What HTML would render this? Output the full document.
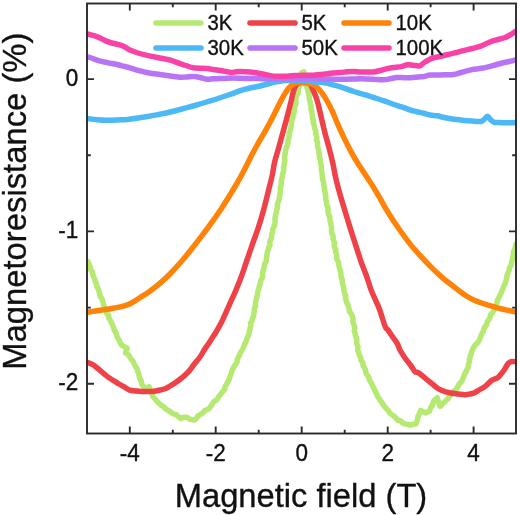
<!DOCTYPE html>
<html><head><meta charset="utf-8"><style>
html,body{margin:0;padding:0;background:#fff;}
body{width:520px;height:515px;overflow:hidden;}
svg{display:block;}
text{font-family:"Liberation Sans",Arial,sans-serif;fill:#111;stroke:#111;stroke-width:0.35px;}
</style></head><body>
<svg width="520" height="515" viewBox="0 0 520 515">
<defs><clipPath id="pc"><rect x="87" y="3.5" width="429" height="430.0"/></clipPath></defs>
<g clip-path="url(#pc)" fill="none" stroke-width="5.5" stroke-linejoin="round" stroke-linecap="round">
<polyline points="87.9,261.5 89.1,264.4 90.4,267.4 90.7,269.9 92.2,271.9 92.7,274.4 93.7,276.8 94.8,279.1 95.2,281.7 96.5,283.9 96.9,286.5 98.2,288.8 99.0,291.2 99.6,293.8 100.1,296.4 101.8,298.5 102.7,301.0 103.3,303.6 103.9,306.1 105.3,308.4 106.4,310.8 106.8,313.5 108.7,315.5 108.9,318.3 110.4,320.5 111.6,322.9 112.7,325.3 113.7,327.9 114.4,330.6 116.1,332.8 116.7,335.4 117.7,337.9 119.2,340.3 120.3,343.0 122.0,345.3 124.3,346.6 127.1,348.2 126.1,350.7 125.6,353.0 128.6,354.8 129.9,357.3 131.5,359.5 133.3,361.7 134.5,364.4 135.6,366.6 137.0,368.7 137.6,371.2 138.7,373.5 139.1,376.1 140.0,378.6 141.2,380.9 141.7,384.2 143.8,386.8 146.1,388.9 149.0,386.7 150.0,389.1 150.5,392.0 152.2,394.0 152.8,396.6 155.3,399.2 158.0,402.5 161.3,405.3 163.6,406.6 165.3,408.7 167.6,410.1 170.0,411.6 173.1,413.8 176.7,414.9 178.5,416.8 180.8,418.5 184.1,417.2 187.0,417.2 189.9,419.2 193.1,419.9 195.1,419.7 196.9,417.8 198.1,415.7 201.4,413.9 203.3,412.6 204.6,410.6 208.5,409.0 211.2,405.7 212.6,403.5 214.1,401.2 216.6,400.0 218.1,397.7 220.6,394.3 223.1,391.1 224.7,389.0 225.1,386.3 226.7,384.1 227.9,381.7 229.3,379.0 230.1,376.1 231.3,373.6 231.8,370.7 233.0,368.5 234.1,366.2 235.8,364.2 237.0,362.0 237.3,359.3 238.5,357.0 239.4,355.0 240.3,352.9 241.5,351.0 243.0,348.6 244.0,345.9 245.1,343.3 246.2,341.3 246.8,339.0 247.7,336.8 248.8,334.7 249.2,332.3 249.7,330.0 250.3,327.8 250.8,325.5 250.6,323.2 251.9,321.1 252.4,318.9 253.2,316.8 253.8,314.6 254.0,312.4 254.4,310.2 254.5,308.0 255.6,305.9 255.4,303.6 255.8,301.4 256.4,299.3 256.8,297.1 257.4,295.0 257.7,292.6 258.2,290.4 258.9,288.2 259.4,285.9 260.4,283.1 260.8,280.2 262.4,277.6 262.6,275.4 262.6,273.1 263.1,271.0 263.7,268.8 264.2,266.7 264.4,264.5 265.7,262.5 266.4,260.3 266.4,257.9 266.9,255.7 267.1,253.4 267.6,251.2 268.4,249.2 268.9,247.0 270.1,245.0 269.8,242.6 270.2,240.4 271.6,238.4 271.7,236.2 271.8,233.9 272.7,231.8 272.6,229.5 273.6,227.4 274.5,225.3 274.8,223.1 275.0,220.9 274.9,218.7 275.4,216.5 275.6,214.3 276.6,212.2 276.7,210.0 277.4,207.9 277.3,205.6 277.6,203.4 278.6,201.3 279.2,199.2 279.5,196.9 279.8,194.7 280.2,192.6 280.5,190.4 280.3,188.1 281.0,185.9 281.2,183.7 281.2,181.5 281.6,179.3 282.2,177.1 282.5,175.0 283.3,172.4 283.8,169.9 283.5,167.3 284.2,164.7 284.5,162.1 284.9,160.0 284.6,157.6 284.9,155.4 285.2,153.2 285.6,151.0 286.0,148.8 286.8,146.6 287.6,144.5 288.0,142.2 288.0,140.0 288.7,137.8 289.3,135.6 289.0,133.2 290.1,131.1 290.8,129.0 291.1,126.7 291.5,124.5 291.6,122.2 291.8,119.9 292.9,117.8 292.8,115.5 293.8,113.4 294.4,111.2 294.2,108.8 294.7,106.6 295.7,104.5 295.9,102.3 295.7,99.9 296.2,97.7 296.7,95.5 298.0,93.5 298.3,91.3 298.1,88.9 299.4,86.8 300.0,84.6 300.2,82.3 300.3,80.0 301.1,77.7 301.1,75.2 301.5,72.9 303.9,71.9 304.9,74.1 305.3,76.4 305.1,78.8 306.0,81.1 305.8,83.6 306.4,86.4 307.7,89.1 308.3,91.9 308.8,94.6 309.3,97.3 309.5,100.0 310.3,102.2 310.5,104.4 311.2,106.6 310.8,108.9 311.8,111.0 312.0,113.3 312.3,115.5 312.4,117.8 313.3,119.9 313.1,122.3 314.0,124.4 314.4,126.6 314.8,128.9 315.7,131.0 315.7,133.3 316.3,135.5 316.9,137.6 316.4,140.0 317.5,142.1 317.5,144.4 317.7,146.6 318.2,148.8 318.8,151.0 319.0,153.2 319.3,155.5 319.4,157.7 320.6,159.8 320.4,162.1 321.1,164.6 321.5,167.2 321.3,169.9 321.9,172.4 322.2,175.0 322.4,177.2 322.6,179.4 323.4,181.6 323.6,183.8 324.0,185.9 324.4,188.1 324.5,190.3 325.2,192.5 325.4,194.7 325.9,196.9 325.7,199.1 326.4,201.3 326.6,203.5 326.9,205.7 328.0,207.8 328.0,210.0 328.0,212.3 328.5,214.4 329.6,216.5 330.0,218.6 330.0,220.9 330.8,223.0 331.0,225.2 331.6,227.3 331.4,229.6 331.7,231.8 332.0,234.0 333.2,236.1 333.1,238.4 333.6,240.6 334.5,242.6 334.2,245.0 334.5,247.2 335.8,249.2 335.4,251.6 336.5,253.6 336.8,255.8 336.7,258.1 337.3,260.3 338.5,262.3 338.8,264.9 339.3,267.5 340.1,270.0 340.7,272.4 341.0,274.8 341.1,277.3 342.3,279.6 342.2,282.1 342.8,284.5 343.7,286.9 343.9,289.4 344.1,291.6 344.8,293.7 345.8,295.7 345.4,298.2 346.1,300.3 346.5,302.5 347.9,304.4 348.3,306.6 349.1,308.7 349.4,311.3 351.0,313.5 352.2,315.9 353.0,318.5 352.8,321.0 353.3,323.5 354.3,325.8 354.8,328.2 354.3,330.8 355.1,333.2 355.4,335.6 356.4,337.9 356.9,340.3 356.6,342.8 357.3,345.2 358.1,347.5 357.6,350.1 358.7,352.6 359.3,355.3 360.8,357.7 361.1,360.5 362.9,362.8 363.1,365.6 364.3,367.6 365.3,369.6 365.8,371.7 366.3,374.0 367.8,375.7 368.9,377.7 369.4,380.0 370.6,381.9 371.7,383.9 372.7,386.1 373.9,388.2 374.8,390.4 375.8,392.4 376.8,394.3 377.5,396.5 379.0,398.2 380.1,400.4 381.8,402.4 383.0,404.6 384.6,406.5 386.2,408.5 388.2,410.3 389.5,412.8 391.5,414.5 393.9,416.0 395.9,418.0 397.7,420.2 400.6,420.8 402.5,422.9 405.0,423.9 407.8,424.4 410.4,425.2 413.2,424.2 415.9,423.9 416.8,421.6 417.8,419.3 417.8,416.7 419.0,414.5 419.8,412.4 420.7,410.4 423.1,411.6 425.5,412.9 429.4,411.2 430.1,409.4 430.9,407.2 432.6,405.3 433.0,402.9 433.9,400.7 437.3,397.7 438.1,400.9 439.0,403.6 440.1,406.3 442.2,404.2 444.2,402.4 445.9,400.7 447.7,399.2 449.3,396.6 451.5,394.5 453.2,391.7 455.8,389.5 457.2,387.8 458.2,385.8 459.3,383.8 461.7,381.5 462.9,378.4 463.9,376.3 464.5,373.9 465.9,371.9 467.2,369.1 468.5,366.2 468.6,364.0 469.4,361.9 469.3,359.6 470.1,357.5 470.4,355.3 471.5,353.3 471.9,351.1 472.6,349.0 474.1,347.0 475.2,344.9 477.1,343.3 478.5,341.5 479.8,338.9 480.8,336.2 481.9,333.6 483.2,331.5 483.8,329.1 484.8,326.9 486.7,324.7 487.2,321.8 489.0,319.6 490.1,317.2 490.6,314.6 492.5,312.7 493.8,310.3 494.7,307.8 496.0,305.5 497.0,303.2 497.2,300.7 498.5,298.5 499.5,296.1 500.8,293.8 501.8,291.4 502.8,289.0 503.6,286.5 504.9,284.2 505.6,281.8 506.4,279.5 506.8,277.1 507.3,274.6 508.2,272.3 509.2,270.0 509.5,267.6 511.0,265.6 511.4,263.2 512.0,260.9 512.5,258.6 513.1,256.3 513.5,254.0 513.5,251.5 514.9,249.3 515.4,246.9 515.7,244.5" stroke="#b5e972"/>
<path d="M87.5 362.5C88.1 362.7 89.8 363.2 91.0 363.8C92.2 364.4 93.4 364.9 94.7 365.9C96.0 366.8 97.4 368.1 99.0 369.5C100.6 370.9 102.7 372.7 104.4 374.1C106.1 375.5 107.4 376.7 109.0 377.8C110.6 378.9 112.4 379.9 114.1 380.9C115.8 381.9 117.4 383.0 119.0 384.0C120.6 385.0 122.0 385.7 123.8 386.7C125.6 387.7 127.8 389.4 129.7 390.1C131.6 390.8 133.1 390.7 135.0 390.9C136.9 391.1 138.8 391.4 141.1 391.5C143.4 391.6 146.9 391.6 149.1 391.6C151.2 391.6 152.2 391.6 154.0 391.3C155.8 391.0 158.0 390.5 160.0 390.0C162.0 389.5 164.1 389.2 165.8 388.5C167.5 387.8 168.5 386.9 170.0 386.0C171.5 385.1 173.5 384.0 175.0 383.0C176.5 382.0 177.6 381.2 179.1 380.0C180.6 378.8 182.4 377.4 184.0 376.0C185.6 374.6 187.1 373.3 188.8 371.4C190.5 369.5 192.1 366.9 194.0 364.5C195.9 362.1 198.2 359.5 200.0 357.0C201.8 354.5 203.1 351.8 204.5 349.5C205.9 347.2 207.4 345.4 208.7 343.4C210.0 341.4 211.3 339.3 212.5 337.5C213.7 335.7 214.2 335.3 215.7 332.7C217.2 330.1 219.8 325.7 221.6 322.1C223.4 318.6 224.8 315.0 226.4 311.4C228.0 307.8 229.6 304.3 231.2 300.7C232.8 297.1 234.4 293.9 236.0 290.0C237.6 286.1 239.2 282.2 241.0 277.5C242.8 272.8 244.6 266.9 246.5 261.5C248.4 256.1 250.2 250.6 252.2 244.9C254.2 239.2 256.5 233.2 258.4 227.4C260.3 221.6 262.0 215.8 263.6 210.0C265.2 204.2 266.6 198.3 268.0 192.5C269.4 186.7 271.2 180.1 272.3 175.0C273.4 169.9 273.5 166.8 274.6 162.1C275.7 157.4 277.6 151.8 279.0 146.6C280.4 141.4 281.9 136.3 283.3 131.1C284.7 125.9 286.1 120.7 287.5 115.5C288.9 110.3 290.4 104.1 291.4 100.0C292.4 95.9 292.8 93.3 293.5 91.0C294.2 88.7 294.7 87.3 295.5 86.0C296.3 84.7 297.4 83.6 298.5 83.0C299.6 82.4 300.8 82.6 302.0 82.5C303.2 82.4 304.2 82.3 305.5 82.5C306.8 82.7 308.4 82.2 309.7 83.5C310.9 84.8 311.8 87.2 313.0 90.0C314.2 92.8 315.7 95.8 317.0 100.0C318.3 104.2 319.6 110.3 320.8 115.5C322.1 120.7 323.2 125.9 324.5 131.1C325.8 136.3 327.3 141.4 328.7 146.6C330.1 151.8 331.5 157.4 332.6 162.1C333.7 166.8 334.0 169.9 335.1 175.0C336.2 180.1 337.9 186.7 339.5 192.5C341.1 198.3 342.9 204.2 344.7 210.0C346.4 215.8 348.2 221.6 350.0 227.4C351.8 233.2 353.7 239.1 355.6 244.9C357.5 250.7 359.5 257.2 361.3 262.4C363.1 267.6 364.9 271.5 366.5 276.0C368.1 280.5 369.5 285.6 370.9 289.4C372.3 293.2 373.6 295.8 375.0 299.0C376.4 302.2 377.6 304.2 379.3 308.8C381.0 313.4 383.7 322.8 385.1 326.3C386.6 329.8 386.9 328.5 388.0 330.0C389.1 331.5 390.2 333.3 391.7 335.5C393.2 337.7 395.8 340.9 397.2 343.3C398.6 345.7 398.7 347.6 400.0 350.0C401.3 352.4 403.2 355.4 405.0 358.0C406.8 360.6 409.2 363.2 410.9 365.5C412.6 367.8 413.7 370.5 415.0 371.7C416.3 372.9 416.9 371.8 418.6 372.9C420.3 374.0 423.1 376.5 425.4 378.3C427.7 380.1 429.9 382.0 432.2 383.8C434.5 385.6 436.7 387.9 439.0 389.2C441.3 390.5 443.5 391.2 445.8 391.9C448.1 392.6 450.6 392.9 452.6 393.3C454.6 393.7 455.9 393.8 458.0 394.0C460.1 394.2 463.0 394.7 465.0 394.7C467.0 394.7 468.5 394.3 470.0 394.0C471.5 393.7 472.6 393.7 474.1 393.0C475.6 392.3 477.2 391.1 479.0 390.0C480.8 388.9 482.7 388.2 484.8 386.6C486.9 385.0 489.5 382.0 491.6 380.5C493.7 379.0 496.0 378.8 497.6 377.7C499.2 376.6 499.9 375.2 501.0 374.0C502.1 372.8 503.1 371.5 504.0 370.2C504.9 368.9 505.8 367.2 506.5 366.0C507.2 364.8 507.6 363.9 508.5 363.1C509.4 362.4 510.8 361.7 512.0 361.5C513.2 361.3 515.1 361.7 515.7 361.7" stroke="#ee4148"/>
<path d="M87.5 312.2C88.8 312.0 92.5 311.4 95.2 311.0C97.9 310.6 100.7 310.2 103.7 309.8C106.7 309.3 109.9 308.9 113.0 308.3C116.2 307.8 119.6 307.1 122.3 306.4C125.0 305.7 127.5 304.8 129.5 303.9C131.5 303.1 132.5 302.3 134.2 301.3C135.9 300.3 137.3 299.4 139.8 297.8C142.3 296.1 145.7 294.1 149.1 291.7C152.4 289.3 156.3 286.4 159.9 283.3C163.5 280.2 167.0 276.9 170.7 273.2C174.3 269.5 178.1 265.2 181.8 261.0C185.4 256.8 189.1 252.3 192.6 247.8C196.1 243.4 199.5 238.9 202.9 234.4C206.3 229.9 209.7 225.3 212.9 220.8C216.2 216.3 219.3 211.7 222.3 207.2C225.2 202.7 228.2 197.8 230.8 193.6C233.4 189.4 235.5 185.8 237.8 181.9C240.0 178.0 241.8 174.6 244.1 170.2C246.5 165.8 249.1 160.1 251.6 155.3C254.1 150.6 256.5 146.2 258.9 141.9C261.3 137.7 263.5 134.2 265.9 129.9C268.3 125.6 270.9 120.5 273.2 116.2C275.5 111.8 277.6 107.3 279.5 103.6C281.4 100.0 282.9 97.0 284.4 94.4C286.0 91.8 287.4 89.6 288.9 87.9C290.4 86.2 292.0 85.0 293.4 84.1C294.9 83.3 296.4 83.0 297.9 82.8C299.3 82.5 300.6 82.5 302.0 82.6C303.4 82.6 304.7 82.7 306.2 82.9C307.7 83.1 309.3 83.1 311.1 83.8C312.8 84.5 314.8 85.4 316.8 87.0C318.7 88.7 320.8 91.3 322.6 93.8C324.5 96.4 326.3 99.6 327.9 102.5C329.5 105.4 330.9 108.3 332.3 111.2C333.6 114.1 334.8 117.1 336.0 120.0C337.2 122.9 338.4 125.8 339.7 128.7C341.0 131.6 342.4 134.5 343.8 137.4C345.2 140.3 346.7 143.3 348.2 146.2C349.7 149.1 351.2 152.0 352.8 154.9C354.4 157.8 356.1 160.6 358.1 163.7C360.0 166.7 362.2 169.9 364.4 173.4C366.7 176.8 369.3 180.6 371.7 184.4C374.1 188.3 376.5 192.4 378.9 196.4C381.3 200.5 383.6 204.9 385.9 208.8C388.3 212.8 390.6 216.5 393.1 220.3C395.7 224.2 398.3 228.0 401.2 232.0C404.1 236.0 407.2 240.4 410.4 244.4C413.7 248.5 417.2 252.3 420.7 256.2C424.2 260.0 427.7 263.8 431.4 267.4C435.0 271.0 438.9 274.6 442.6 277.9C446.3 281.1 450.4 284.0 453.9 286.7C457.3 289.4 460.4 291.9 463.4 293.9C466.4 296.0 469.0 297.7 471.8 299.1C474.6 300.6 477.4 301.5 480.2 302.5C482.9 303.6 485.5 304.4 488.2 305.2C491.0 306.0 493.5 306.8 496.4 307.6C499.4 308.4 502.6 309.1 505.8 309.9C509.0 310.6 514.1 311.6 515.7 312.0" stroke="#ff8308"/>
<path d="M87.5 118.5C89.1 118.7 93.8 119.5 97.0 119.8C100.2 120.1 103.1 120.3 106.4 120.3C109.7 120.3 113.5 120.2 117.0 120.0C120.5 119.8 124.2 119.7 127.7 119.4C131.2 119.1 134.4 118.5 138.0 118.0C141.6 117.5 145.4 116.9 149.1 116.3C152.8 115.7 156.4 114.9 160.0 114.2C163.6 113.5 166.7 112.9 170.4 112.0C174.1 111.1 177.9 110.1 182.0 109.0C186.1 107.9 190.9 106.7 195.0 105.5C199.1 104.3 202.7 103.2 206.5 102.0C210.3 100.8 214.2 99.8 218.0 98.5C221.8 97.2 225.8 95.8 229.6 94.5C233.4 93.2 238.0 91.4 241.1 90.4C244.2 89.4 245.7 89.1 248.0 88.5C250.3 87.9 252.7 87.5 255.0 87.0C257.3 86.5 260.1 86.0 262.0 85.5C263.9 85.0 265.1 84.8 266.7 84.3C268.3 83.8 270.0 83.0 271.9 82.5C273.8 82.0 276.1 81.8 278.3 81.5C280.6 81.2 283.1 80.8 285.4 80.6C287.7 80.4 289.8 80.3 292.0 80.3C294.2 80.2 296.5 80.2 298.8 80.3C301.1 80.4 303.6 80.5 306.0 80.7C308.4 80.9 311.2 81.5 313.5 81.7C315.8 82.0 317.9 82.0 320.0 82.2C322.1 82.4 323.8 82.6 326.0 83.0C328.2 83.4 330.6 84.2 333.0 84.8C335.4 85.4 338.1 86.1 340.4 86.8C342.7 87.5 344.8 88.4 347.0 89.2C349.2 90.0 351.6 90.8 353.8 91.5C356.0 92.2 358.0 92.7 360.0 93.3C362.0 93.9 363.7 94.3 366.0 95.0C368.3 95.7 371.3 96.8 373.6 97.5C375.9 98.2 377.7 98.8 380.0 99.5C382.3 100.2 384.9 101.2 387.2 102.0C389.5 102.8 391.7 103.7 394.0 104.5C396.3 105.3 398.6 105.9 400.8 106.6C403.0 107.3 404.7 108.0 407.0 108.8C409.3 109.6 411.6 110.5 414.4 111.2C417.2 112.0 421.0 112.7 423.6 113.3C426.2 113.9 427.7 114.6 430.0 115.0C432.3 115.4 434.9 115.4 437.2 115.8C439.5 116.2 441.7 117.0 444.0 117.5C446.3 118.0 448.6 118.5 450.8 118.8C453.0 119.1 454.8 119.3 457.0 119.6C459.2 119.9 461.8 120.2 464.3 120.4C466.8 120.6 469.3 120.8 472.0 121.0C474.7 121.2 478.7 121.8 480.7 121.5C482.7 121.2 482.9 120.4 484.0 119.5C485.1 118.6 486.3 116.3 487.4 116.3C488.5 116.3 489.4 118.5 490.5 119.5C491.6 120.5 492.6 121.8 494.2 122.3C495.8 122.8 498.2 122.5 500.0 122.6C501.8 122.7 502.5 122.8 505.1 122.8C507.7 122.8 513.9 122.8 515.7 122.8" stroke="#4cb8f5"/>
<path d="M87.5 57.0C87.9 57.1 88.1 56.9 90.0 57.5C91.9 58.1 95.8 59.8 98.7 60.6C101.6 61.5 104.6 62.0 107.5 62.6C110.4 63.2 113.8 63.8 116.2 64.3C118.6 64.8 119.7 65.2 122.0 65.8C124.3 66.4 127.3 67.0 130.0 67.8C132.7 68.5 134.8 69.4 138.0 70.3C141.2 71.2 145.4 72.3 149.1 73.0C152.8 73.7 156.4 74.0 160.0 74.5C163.6 75.0 167.1 75.5 170.4 76.0C173.7 76.5 177.4 77.0 180.0 77.2C182.6 77.4 183.8 77.1 186.0 77.0C188.2 76.9 191.2 76.4 193.5 76.5C195.8 76.6 197.8 77.0 200.0 77.5C202.2 78.0 204.7 79.0 206.9 79.2C209.1 79.4 210.8 78.9 213.0 78.8C215.2 78.7 218.1 78.7 220.4 78.6C222.7 78.5 224.8 78.4 227.0 78.3C229.2 78.2 231.6 78.1 233.8 78.1C236.0 78.1 237.3 78.2 240.0 78.3C242.7 78.4 246.9 78.5 250.0 78.6C253.1 78.6 255.3 78.5 258.5 78.6C261.7 78.7 265.6 79.0 269.2 79.0C272.8 79.0 276.5 78.9 280.0 78.9C283.5 78.9 286.7 78.8 290.0 78.8C293.3 78.8 296.7 78.8 300.0 78.8C303.3 78.8 306.7 78.8 310.0 78.8C313.3 78.8 317.2 78.9 320.0 78.9C322.8 78.9 323.5 78.9 326.9 79.0C330.3 79.1 335.9 79.3 340.4 79.3C344.9 79.3 350.5 79.1 353.8 79.0C357.1 78.9 356.7 78.8 360.0 78.8C363.3 78.8 369.8 79.0 373.6 79.2C377.5 79.4 380.4 79.9 383.1 79.8C385.8 79.7 387.7 79.2 390.0 78.8C392.3 78.4 394.7 77.7 396.7 77.5C398.7 77.3 400.2 77.5 402.0 77.5C403.8 77.5 404.9 77.9 407.6 77.8C410.3 77.7 415.7 77.2 418.4 77.0C421.1 76.8 421.7 76.9 423.6 76.6C425.5 76.3 427.7 75.4 430.0 75.1C432.3 74.8 434.7 75.0 437.2 75.0C439.7 75.0 442.3 74.9 445.0 74.8C447.7 74.7 450.8 74.9 453.5 74.5C456.2 74.1 458.3 73.2 461.0 72.5C463.7 71.8 467.0 70.7 469.8 70.1C472.6 69.5 475.3 69.2 478.0 68.8C480.7 68.3 483.4 68.0 486.1 67.4C488.8 66.8 491.3 66.0 494.0 65.3C496.7 64.6 499.9 63.6 502.4 63.0C504.9 62.4 506.8 62.0 509.0 61.5C511.2 61.0 514.6 60.1 515.7 59.8" stroke="#b874f5"/>
<path d="M87.5 33.8C87.9 33.9 88.9 34.3 90.0 34.6C91.1 34.9 92.5 35.2 94.0 35.7C95.5 36.2 97.2 36.8 98.7 37.4C100.2 38.0 101.5 38.8 103.0 39.5C104.5 40.2 106.0 41.0 107.5 41.6C109.0 42.2 110.5 42.6 112.0 43.0C113.5 43.4 114.8 43.6 116.2 44.0C117.6 44.4 119.0 44.7 120.5 45.2C122.0 45.7 123.3 46.2 124.9 47.0C126.5 47.8 127.8 49.0 130.0 50.0C132.2 51.0 134.8 52.0 138.0 53.0C141.2 54.0 145.4 55.1 149.1 55.9C152.8 56.7 156.4 57.3 160.0 58.0C163.6 58.7 167.1 59.2 170.4 60.2C173.7 61.2 177.4 62.8 180.0 63.7C182.6 64.6 183.8 64.8 186.0 65.5C188.2 66.2 190.0 67.3 193.5 67.8C197.0 68.3 203.7 68.2 206.9 68.5C210.2 68.8 210.8 69.2 213.0 69.5C215.2 69.8 218.2 70.2 220.4 70.5C222.6 70.8 224.2 71.2 226.0 71.5C227.8 71.8 229.4 72.5 231.1 72.5C232.8 72.5 234.4 72.0 236.0 71.8C237.6 71.6 239.1 71.4 240.6 71.4C242.1 71.4 243.4 71.7 245.0 71.8C246.6 71.9 247.8 71.8 250.0 72.0C252.2 72.2 256.0 72.8 258.5 73.2C261.0 73.6 262.8 74.0 265.0 74.5C267.2 75.0 269.7 75.6 271.9 75.9C274.1 76.2 275.8 76.1 278.0 76.2C280.2 76.3 283.1 76.4 285.4 76.3C287.7 76.2 289.8 75.9 292.0 75.8C294.2 75.7 296.6 75.5 298.8 75.4C301.0 75.3 302.6 75.3 305.0 75.3C307.4 75.3 311.0 75.3 313.5 75.2C316.0 75.1 317.8 74.7 320.0 74.5C322.2 74.3 324.7 74.0 326.9 73.8C329.1 73.5 330.8 73.2 333.0 73.0C335.2 72.8 338.1 72.7 340.4 72.5C342.7 72.3 344.8 72.0 347.0 71.8C349.2 71.6 351.6 71.4 353.8 71.4C356.0 71.4 358.0 71.9 360.0 72.0C362.0 72.1 363.7 72.0 366.0 72.0C368.3 72.0 371.3 72.2 373.6 72.0C375.9 71.8 377.7 71.1 380.0 70.5C382.3 69.9 384.9 69.1 387.2 68.6C389.5 68.1 391.7 67.8 394.0 67.5C396.3 67.2 398.5 67.0 400.8 66.6C403.1 66.1 405.6 65.0 407.6 64.8C409.6 64.6 411.0 65.0 413.0 65.2C415.0 65.4 417.8 66.4 419.8 65.9C421.8 65.4 423.0 63.2 425.0 62.0C427.0 60.8 429.2 59.3 431.7 58.4C434.2 57.5 436.8 57.3 440.0 56.5C443.2 55.7 448.0 54.5 450.8 53.8C453.6 53.1 454.8 52.9 457.0 52.3C459.2 51.7 461.8 50.9 464.3 50.3C466.8 49.7 469.3 49.2 472.0 48.5C474.7 47.8 478.4 47.0 480.7 46.2C483.0 45.4 484.2 44.6 486.0 43.8C487.8 43.0 489.5 42.0 491.5 41.3C493.5 40.6 495.7 40.1 498.0 39.5C500.3 38.9 503.1 38.2 505.1 37.5C507.1 36.8 508.2 36.0 510.0 35.0C511.8 34.0 514.8 31.9 515.7 31.3" stroke="#f842a8"/>
</g>
<g fill="none" stroke-width="5.5" stroke-linecap="round">
<line x1="156" y1="22.9" x2="201" y2="22.9" stroke="#b5e972"/><line x1="156" y1="47.9" x2="201" y2="47.9" stroke="#4cb8f5"/><line x1="250" y1="22.9" x2="295" y2="22.9" stroke="#ee4148"/><line x1="250" y1="47.9" x2="295" y2="47.9" stroke="#b874f5"/><line x1="344" y1="22.9" x2="389" y2="22.9" stroke="#ff8308"/><line x1="344" y1="47.9" x2="389" y2="47.9" stroke="#f842a8"/>
</g>
<g font-size="20.4"><text transform="translate(207.5,29.8) scale(1,1.04)">3K</text><text transform="translate(207.5,54.7) scale(1,1.04)">30K</text><text transform="translate(301.5,29.8) scale(1,1.04)">5K</text><text transform="translate(301.5,54.7) scale(1,1.04)">50K</text><text transform="translate(395.5,29.8) scale(1,1.04)">10K</text><text transform="translate(395.5,54.7) scale(1,1.04)">100K</text></g>
<rect x="87" y="3.5" width="429" height="430.0" fill="none" stroke="#2a2a2a" stroke-width="1.9"/>
<path d="M129.8 433.5V426.5M129.8 3.5V10.5M172.8 433.5V429.7M172.8 3.5V7.3M215.7 433.5V426.5M215.7 3.5V10.5M258.7 433.5V429.7M258.7 3.5V7.3M301.7 433.5V426.5M301.7 3.5V10.5M344.7 433.5V429.7M344.7 3.5V7.3M387.7 433.5V426.5M387.7 3.5V10.5M430.6 433.5V429.7M430.6 3.5V7.3M473.6 433.5V426.5M473.6 3.5V10.5M87.0 79.1H94.0M516.0 79.1H509.0M87.0 155.2H90.8M516.0 155.2H512.2M87.0 231.4H94.0M516.0 231.4H509.0M87.0 307.6H90.8M516.0 307.6H512.2M87.0 383.7H94.0M516.0 383.7H509.0" stroke="#2a2a2a" stroke-width="1.9" fill="none"/>
<g font-size="22.5" text-anchor="middle"><text transform="translate(129.8,460.5) scale(1,1.07)">-4</text><text transform="translate(215.7,460.5) scale(1,1.07)">-2</text><text transform="translate(301.7,460.5) scale(1,1.07)">0</text><text transform="translate(387.7,460.5) scale(1,1.07)">2</text><text transform="translate(473.6,460.5) scale(1,1.07)">4</text></g>
<g font-size="22.5" text-anchor="end"><text transform="translate(78.3,85.6) scale(1,1.07)">0</text><text transform="translate(78.3,237.9) scale(1,1.07)">-1</text><text transform="translate(78.3,390.2) scale(1,1.07)">-2</text></g>
<text x="301" y="506.5" font-size="32.7" text-anchor="middle">Magnetic field (T)</text>
<text transform="translate(26.3,201.2) rotate(-90)" font-size="32.8" text-anchor="middle">Magnetoresistance (%)</text>
</svg>
</body></html>
